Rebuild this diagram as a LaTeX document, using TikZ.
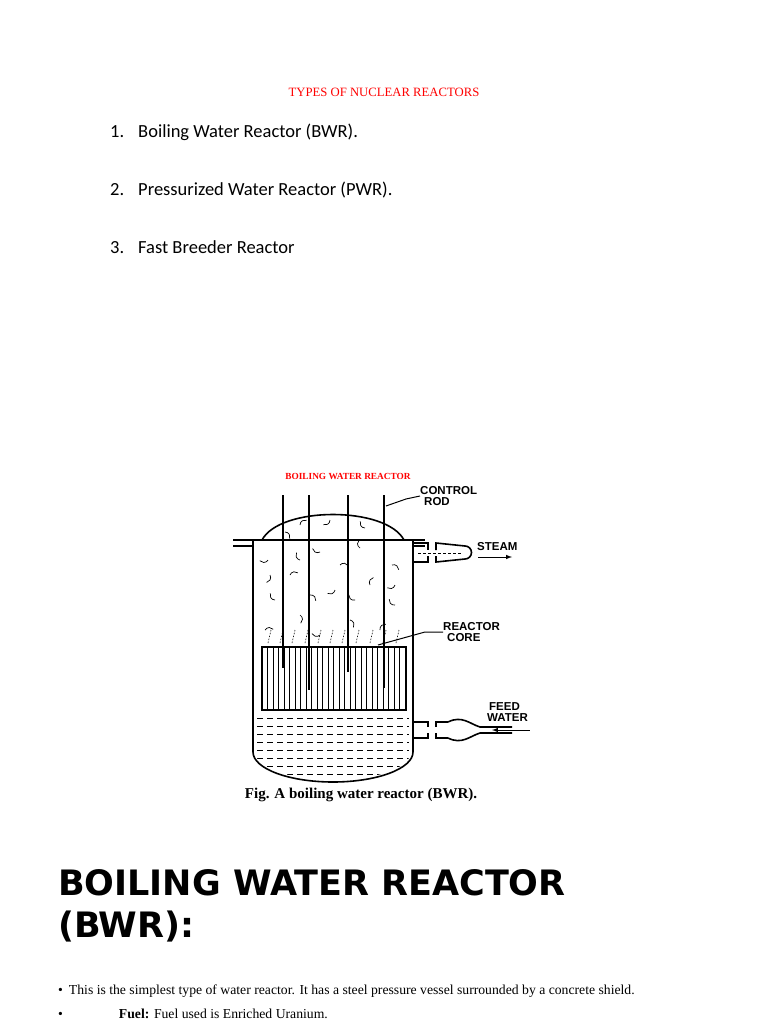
\documentclass[tikz,border=0pt]{standalone}
\usepackage{fontspec}
\setmainfont{Liberation Serif}
\newfontfamily\listfont{Carlito}
\newfontfamily\headfont{DejaVu Sans}
\newfontfamily\labfont{Liberation Sans}
\begin{document}
\begin{tikzpicture}[x=1pt,y=-1pt,
 every node/.style={inner sep=0pt},
 wall/.style={line width=1.6pt},
 lab/.style={font=\labfont\bfseries\fontsize{11.5}{11}\selectfont,align=left,anchor=west},
 item/.style={font=\listfont\fontsize{18.5}{20}\selectfont,anchor=west}]
\useasboundingbox (0,0) rectangle (768,1024);
\fill[white] (0,0) rectangle (768,1024);
% heading texts
\node (title) [red,font=\fontsize{12.7}{13}\selectfont] at (384,92) {TYPES OF NUCLEAR REACTORS};
\node (i1) [item] at (110,132) {1.\hspace{14pt}Boiling Water Reactor (BWR).};
\node (i2) [item] at (110,190) {2.\hspace{14pt}Pressurized Water Reactor (PWR).};
\node (i3) [item] at (110,247) {3.\hspace{14pt}Fast Breeder Reactor};
\node (cap) [red,font=\bfseries\fontsize{9.3}{9}\selectfont] at (348,476) {BOILING WATER REACTOR};
% vessel
\draw[wall] (253,540) -- (253,752) arc[start angle=180,end angle=0,x radius=80,y radius=30] -- (413,540);
\draw[wall] (233,540) -- (425,540) (233,546) -- (253,546) (413,546) -- (425,546);
\draw[wall] (262,540) .. controls (280,506) and (386,506) .. (404,540);
% control rods
\foreach \x/\e in {283/668,309/690,348/672,384/688}
  \draw[wall] (\x,495) -- (\x,\e);
% core
\draw[wall] (262,647) rectangle (406,710);
\foreach \i in {1,...,26}
  \draw[line width=0.8pt] (262+\i*5.5,647) -- (262+\i*5.5,710);
% water
\begin{scope}
\clip (255,716) -- (255,752) arc[start angle=180,end angle=0,x radius=78,y radius=28] -- (411,716) -- cycle;
\foreach \y in {718,726,734,742,750,758,766,774}
  \draw[line width=0.8pt,dash pattern=on 6pt off 4pt] (257,\y) -- (409,\y);
\end{scope}
% bubbles
\foreach \x/\y/\a in {268/560/30,290/575/200,320/552/60,360/548/120,392/565/250,275/600/90,
  300/615/300,335/590/10,370/585/150,395/605/80,265/630/210,320/635/45,350/620/280,
  380/630/170,300/560/100,340/565/220,270/575/330,395/585/15,310/595/260,355/600/75,
  300/525/180,330/520/0,365/528/90,285/532/270}
  \draw[line width=0.7pt] (\x,\y) arc[start angle=\a,end angle=\a+110,radius=5];
\foreach \x in {268,280,292,305,318,330,342,356,370,383,396}
  \draw[line width=0.6pt,dash pattern=on 1.5pt off 1.5pt] (\x,643) -- (\x+3,630);
% steam port
\draw[wall] (413,543) -- (428,543) -- (428,550) (413,562) -- (428,562) -- (428,556);
\draw[wall] (436,550) -- (436,543) -- (465,546) (436,556) -- (436,562) -- (465,559);
\draw[wall] (465,546) arc[start angle=-90,end angle=90,radius=6.5];
\draw[dash pattern=on 3pt off 2pt] (418,553) -- (462,553);
% feed port
\draw[wall] (413,722) -- (428,722) -- (428,727) (413,738) -- (428,738) -- (428,733);
\draw[wall] (436,727) -- (436,722) -- (448,722) (436,733) -- (436,738) -- (448,738);
\draw[wall] (448,722) .. controls (462,715) and (470,724) .. (480,727) -- (512,727)
  (448,738) .. controls (462,745) and (470,736) .. (480,733) -- (512,733);
% labels
\node (rodlab) [lab] at (420,496) {CONTROL\\\hspace{4pt}ROD};
\node (steamlab) [lab] at (477,547) {STEAM};
\node (corelab) [lab] at (443,632) {REACTOR\\\hspace{4pt}CORE};
\node (feedlab) [lab] at (487,712) {\hspace{2pt}FEED\\WATER};
\coordinate (rodend) at (386,506);
\coordinate (coreend) at (378,645);
\draw[line width=1pt] (rodlab.west) -- ++(-14,3) -- (rodend);
\draw[line width=1pt] (corelab.west) -- ++(-18,0) -- (coreend);
\draw[line width=1pt,-latex] (478,557) -- (512,557);
\draw[line width=1pt,latex-] (492,730) -- (530,730);
\node (fig) [font=\bfseries\fontsize{15}{15}\selectfont] at (361,795) {Fig. A boiling water reactor (BWR).};
% section
\node (head) [anchor=west,align=left,font=\headfont\bfseries\fontsize{35}{42}\selectfont] at (58,906) {BOILING WATER REACTOR\\(BWR):};
\node (b1) [anchor=west,font=\fontsize{13.7}{14}\selectfont] at (58,991) {\textbullet\hspace{6pt}This is the simplest type of water reactor. It has a steel pressure vessel surrounded by a concrete shield.};
\node (b2) [anchor=west,font=\fontsize{13.7}{14}\selectfont] at (58,1014) {\textbullet\hspace{56pt}\textbf{Fuel:} Fuel used is Enriched Uranium.};
\end{tikzpicture}
\end{document}
